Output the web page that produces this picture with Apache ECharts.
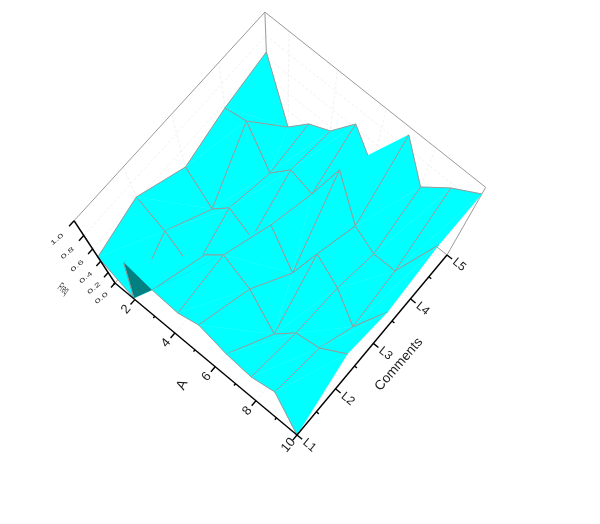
<!DOCTYPE html>
<html><head><meta charset="utf-8"><style>html,body{margin:0;background:#fff}#c{width:600px;height:524px}</style>
<script src="https://cdn.jsdelivr.net/npm/echarts@6/dist/echarts.min.js"></script></head>
<body><div id="c"></div>
<script>
const aValues=[1,2,3,4,5,6,7,8,9,10];
const commentLabels=['L1','L2','L3','L4','L5'];
const zTicks=['0.0','0.2','0.4','0.6','0.8','1.0'];
const zTitle='Freq';
const aTitle='A';
const commentTitle='Comments';
// surface height for each A (1..10), one list per comment level
const zL1=[.471,.034,.997,.877,.825,.985,.808,.735,.880,0];
const zL2=[.633,.407,.015,.601,.898,.663,.105,.542,.632,.950];
const zL3=[.402,.045,.315,.109,.587,.079,.713,.451,0,.705];
const zL4=[.552,.604,.173,.441,.351,.894,.392,.218,.219,.943];
const zL5=[.647,.002,.241,.358,.641,.33,.927,.529,.754,.919];
const zRows=[zL1,zL2,zL3,zL4,zL5];

// perspective camera: box coordinates (u,v,z in 0..1) -> picture
const camera=[[176.38,163.03,115,-55.38],[143.77,-167.54,283,-105.3],[-0.01892,0.0355,1,-0.195]];
function project(A,L,z){
  const u=(A-1)/9,v=(L-1)/4,p=[u,v,1,z];
  const dot=r=>r[0]*p[0]+r[1]*p[1]+r[2]*p[2]+r[3]*p[3];
  const w=dot(camera[2]);
  return [dot(camera[0])/w,dot(camera[1])/w];
}
const CYAN='#00ffff',DARK='#008080',EDGE='#9a9a9a';
function seg(api,a,b,st){
  const p=api.coord(project(...a)),q=api.coord(project(...b));
  return {type:'line',shape:{x1:p[0],y1:p[1],x2:q[0],y2:q[1]},style:Object.assign({fill:null},st),silent:true};
}
function tri(api,a,b,c,canFlip){
  const pts=[a,b,c].map(t=>api.coord(project(...t)));
  const s=(pts[1][0]-pts[0][0])*(pts[2][1]-pts[0][1])-(pts[1][1]-pts[0][1])*(pts[2][0]-pts[0][0]);
  const col=(canFlip&&s>0)?DARK:CYAN;
  return {type:'polygon',shape:{points:pts},style:{fill:col,stroke:col,lineWidth:.4},silent:true};
}
function label(api,pos,text,deg,size,sy,color,sx){
  const p=api.coord(project(...pos));
  return {type:'text',x:p[0],y:p[1],rotation:deg*Math.PI/180,scaleY:sy||1,scaleX:sx||1,silent:true,
    style:{text:text,font:size+'px "Liberation Sans"',fill:color||'#222',align:'center',verticalAlign:'middle'}};
}
// cells split along the other diagonal; front edges that stay unstroked
const otherDiagonal=['1,3','4,2','5,1'];
const noFrontEdge=['2,0'];
// one cell of the surface: two triangles, far one first
function renderCell(params,api){
  const i=api.value(0),j=api.value(1),key=i+','+j;
  const A0=aValues[i],A1=aValues[i+1],L0=j+1,L1=j+2;
  const a=[A0,L0,zRows[j][i]],b=[A1,L0,zRows[j][i+1]],c=[A1,L1,zRows[j+1][i+1]],d=[A0,L1,zRows[j+1][i]];
  const st={stroke:EDGE,lineWidth:1},ch=[];
  if(otherDiagonal.includes(key)){
    ch.push(tri(api,b,c,d),seg(api,c,d,st),tri(api,a,b,d,true),seg(api,d,a,st));
  }else{
    ch.push(tri(api,a,c,d),seg(api,c,d,st),seg(api,d,a,st),tri(api,a,b,c,true));
  }
  if(!noFrontEdge.includes(key))ch.push(seg(api,a,b,st));
  return {type:'group',children:ch};
}
const cells=[];
for(let i=0;i<aValues.length-1;i++)for(let j=commentLabels.length-2;j>=0;j--)cells.push([i,j]);

function renderWalls(params,api){
  const grid={stroke:'#eeeeee',lineWidth:.8,lineDash:[3,2]},box={stroke:'#9a9a9a',lineWidth:1},ch=[];
  [.2,.4,.6,.8].forEach(z=>{ch.push(seg(api,[1,1,z],[1,5,z],grid),seg(api,[1,5,z],[10,5,z],grid));});
  [2,4,6,8].forEach(A=>{ch.push(seg(api,[A,5,0],[A,5,1],grid),seg(api,[A,1,0],[A,5,0],grid));});
  [2,3,4].forEach(L=>{ch.push(seg(api,[1,L,0],[1,L,1],grid),seg(api,[1,L,0],[10,L,0],grid));});
  ch.push(seg(api,[1,1,1],[1,5,1],box),seg(api,[1,5,1],[10,5,1],box),seg(api,[1,5,0],[1,5,1],box),
    seg(api,[10,5,0],[10,5,1],box),seg(api,[1,1,0],[1,5,0],box),seg(api,[1,5,0],[10,5,0],box));
  return {type:'group',children:ch};
}
function renderAxes(params,api){
  const ax={stroke:'#000',lineWidth:1.4},ch=[];
  ch.push(seg(api,[1,1,0],[1,1,1],ax),seg(api,[1,1,0],[10,1,0],ax),seg(api,[10,1,0],[10,5,0],ax));
  zTicks.forEach(t=>{const z=+t;ch.push(seg(api,[1,1,z],[1,.9,z],ax),label(api,[1,.66,z],t,40,11,.55,'#333'));});
  ch.push(label(api,[1,.28,.53],zTitle,-35,12,1,'#333',.42));
  aValues.forEach(A=>{const major=A%2===0;ch.push(seg(api,[A,1,0],[A,major?.89:.96,0],ax));
    if(major)ch.push(label(api,[A,.78,0],String(A),50,13));});
  ch.push(label(api,[5.5,.42,0],aTitle,65,14));
  commentLabels.forEach((t,k)=>{const L=k+1;ch.push(seg(api,[10,L,0],[10.25,L,0],ax),label(api,[10.6,L,0],t,-40,12));
    if(L<5)ch.push(seg(api,[10,L+.5,0],[10.12,L+.5,0],ax));});
  ch.push(label(api,[11.25,3,0],commentTitle,49,13.5));
  return {type:'group',children:ch};
}
const chart=echarts.init(document.getElementById('c'),null,{width:600,height:524});
chart.setOption({animation:false,backgroundColor:'#fff',
  grid:{left:0,right:0,top:0,bottom:0},
  xAxis:{type:'value',min:0,max:600,show:false},
  yAxis:{type:'value',min:0,max:524,inverse:true,show:false},
  series:[
    {type:'custom',coordinateSystem:'cartesian2d',renderItem:renderWalls,data:[[0,0]],clip:false,z:1,silent:true},
    {type:'custom',coordinateSystem:'cartesian2d',renderItem:renderCell,data:cells,clip:false,z:2,silent:true},
    {type:'custom',coordinateSystem:'cartesian2d',renderItem:renderAxes,data:[[0,0]],clip:false,z:3,silent:true}
  ]});
</script></body></html>
